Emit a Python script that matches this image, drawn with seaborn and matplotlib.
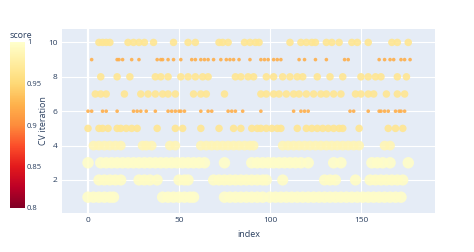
import pandas as pd
import seaborn as sns
import matplotlib.pyplot as plt
from matplotlib.cm import ScalarMappable
from matplotlib.colors import Normalize

plt.rcParams['font.family'] = ['Open Sans', 'DejaVu Sans']

# sample indices shown for each CV iteration
row1 = [0, 3, 6, 9, 12, 14, 41, 44, 47, 50, 53, 56, 58, 75, 78, 81, 84, 87, 90, 93, 96,
        100, 103, 106, 109, 112, 115, 118, 121, 124, 127, 130, 133, 136, 139, 142, 145,
        148, 151, 154, 157, 160, 163, 166, 169, 172]
row2 = [6, 9, 12, 15, 18, 28, 31, 34, 38, 50, 53, 55, 69, 72, 75, 78, 81, 84, 87, 90, 93,
        96, 98, 107, 130, 133, 136, 147, 155, 158, 161, 164, 167, 170, 173]
row3 = [0, 7, 10, 13, 16, 19, 22, 25, 28, 31, 34, 37, 40, 43, 46, 49, 52, 55, 58, 61, 64,
        75, 90, 93, 96, 99, 102, 105, 108, 111, 114, 117, 121, 135, 139, 156, 159, 162,
        166, 176]
row4 = [3, 6, 9, 12, 15, 18, 30, 32, 35, 45, 48, 62, 65, 68, 71, 74, 77, 80, 83, 86, 89,
        91, 107, 110, 113, 116, 119, 122, 125, 128, 131, 134, 137, 140, 143, 146, 149,
        163, 166]
row5 = [0, 6, 8, 11, 16, 18, 21, 24, 27, 38, 48, 52, 62, 72, 80, 84, 90, 93, 95, 98, 101,
        104, 106, 115, 120, 123, 126, 129, 132, 135, 138, 140, 149, 165, 169, 173]
row6 = [0, 2, 8, 10, 16, 25, 27, 29, 32, 37, 44, 46, 48, 50, 51, 53, 62, 66, 68, 77, 79,
        81, 85, 95, 113, 117, 119, 121, 144, 146, 154, 160, 161, 163, 165, 169, 171, 172,
        174]
row7 = [4, 7, 10, 20, 29, 33, 37, 41, 44, 48, 58, 62, 65, 75, 95, 98, 102, 105, 109, 113,
        116, 120, 124, 128, 131, 135, 139, 147, 150, 154, 157, 164, 170, 174]
row8 = [7, 16, 23, 37, 40, 44, 51, 55, 59, 63, 66, 81, 84, 88, 91, 98, 102, 107, 111, 115,
        118, 126, 133, 140, 150, 154, 158, 161, 170, 175]
row9 = [2, 16, 17, 19, 24, 28, 38, 40, 41, 44, 47, 51, 57, 59, 62, 64, 66, 69, 73, 76, 78,
        80, 83, 89, 95, 97, 99, 102, 104, 106, 116, 119, 125, 131, 141, 143, 160, 163, 166,
        168, 172, 174, 177]
row10 = [6, 8, 10, 12, 22, 25, 28, 31, 36, 47, 55, 59, 72, 74, 77, 86, 89, 92, 94, 111, 117,
         120, 123, 125, 131, 134, 138, 145, 148, 154, 167, 170, 176]

rows = [row1, row2, row3, row4, row5, row6, row7, row8, row9, row10]
iterations = [1, 2, 3, 4, 5, 6, 7, 8, 9, 10]
scores = [0.997, 0.996, 0.997, 0.986, 0.966, 0.922, 0.966, 0.966, 0.922, 0.966]
weights = [1.0, 0.95, 1.0, 0.72, 0.43, 0.1, 0.43, 0.43, 0.1, 0.43]

frames = []
for it, idx, sc, w in zip(iterations, rows, scores, weights):
    frames.append(pd.DataFrame({'index': idx, 'CV iteration': it, 'score': sc, 'weight': w}))
df = pd.concat(frames)

txt = '#2a3f5f'
fig = plt.figure(figsize=(4.74, 2.52), dpi=100)
ax = fig.add_axes([62 / 474, 1 - 213 / 252, 373 / 474, 184 / 252])
ax.set_facecolor('#E5ECF6')

sns.scatterplot(data=df, x='index', y='CV iteration', hue='score', size='weight',
                palette='YlOrRd_r', hue_norm=(0.8, 1), sizes=(0, 68), size_norm=(0, 1),
                legend=False, linewidth=0, alpha=0.9, ax=ax, zorder=3)

ax.set_xlim(-14.3, 190.7)
ax.set_ylim(0.08, 10.78)
ax.set_xticks([0, 50, 100, 150])
ax.set_yticks([2, 4, 6, 8, 10])
ax.grid(color='white', lw=0.8)
ax.set_axisbelow(True)
ax.axvline(0, color='white', lw=1.6, zorder=1)
for s in ax.spines.values():
    s.set_visible(False)
ax.tick_params(length=0, labelsize=6, colors=txt, pad=3)
ax.set_xlabel('index', fontsize=6.5, color=txt, labelpad=4)
ax.set_ylabel('CV iteration', fontsize=6.5, color=txt, labelpad=0)

# colorbar on the left
cax = fig.add_axes([10 / 474, 1 - 208 / 252, 15 / 474, 166 / 252])
sm = ScalarMappable(norm=Normalize(0.8, 1), cmap='YlOrRd_r')
cb = fig.colorbar(sm, cax=cax)
cb.outline.set_visible(False)
cb.set_ticks([0.8, 0.85, 0.9, 0.95, 1])
cb.set_ticklabels(['0.8', '0.85', '0.9', '0.95', '1'])
cax.tick_params(length=0, labelsize=5.5, colors=txt, pad=1.5)
fig.text(10 / 474, 1 - 35 / 252, 'score', fontsize=6.5, color=txt, va='center', ha='left')

plt.savefig('out.png', dpi=100)
